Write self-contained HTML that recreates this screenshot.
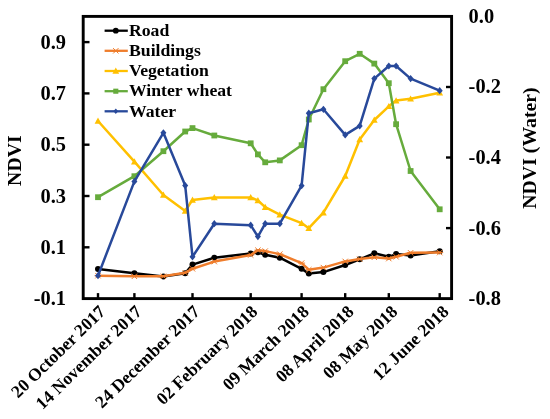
<!DOCTYPE html>
<html><head><meta charset="utf-8"><title>NDVI time series</title>
<style>
html,body{margin:0;padding:0;background:#fff;}
svg{display:block}
.t{font-family:"Liberation Serif","Times New Roman",serif;font-weight:bold;font-size:20.4px;fill:#000}
.l{font-size:17.7px}
.x{font-size:17.65px}
.a{font-size:19.8px}
</style></head><body>
<svg width="550" height="419" viewBox="0 0 550 419">
<rect width="550" height="419" fill="#fff"/>
<rect x="83.2" y="16.4" width="368.4" height="282.2" fill="none" stroke="#000" stroke-width="2.9"/>
<line x1="83.2" y1="42.1" x2="89.5" y2="42.1" stroke="#000" stroke-width="2.4"/>
<line x1="83.2" y1="93.4" x2="89.5" y2="93.4" stroke="#000" stroke-width="2.4"/>
<line x1="83.2" y1="144.7" x2="89.5" y2="144.7" stroke="#000" stroke-width="2.4"/>
<line x1="83.2" y1="196.0" x2="89.5" y2="196.0" stroke="#000" stroke-width="2.4"/>
<line x1="83.2" y1="247.3" x2="89.5" y2="247.3" stroke="#000" stroke-width="2.4"/>
<line x1="451.6" y1="87.0" x2="446.0" y2="87.0" stroke="#000" stroke-width="2.4"/>
<line x1="451.6" y1="157.5" x2="446.0" y2="157.5" stroke="#000" stroke-width="2.4"/>
<line x1="451.6" y1="228.1" x2="446.0" y2="228.1" stroke="#000" stroke-width="2.4"/>
<line x1="98.0" y1="298.6" x2="98.0" y2="293.1" stroke="#000" stroke-width="2.4"/>
<line x1="134.4" y1="298.6" x2="134.4" y2="293.1" stroke="#000" stroke-width="2.4"/>
<line x1="192.5" y1="298.6" x2="192.5" y2="293.1" stroke="#000" stroke-width="2.4"/>
<line x1="250.7" y1="298.6" x2="250.7" y2="293.1" stroke="#000" stroke-width="2.4"/>
<line x1="301.6" y1="298.6" x2="301.6" y2="293.1" stroke="#000" stroke-width="2.4"/>
<line x1="345.2" y1="298.6" x2="345.2" y2="293.1" stroke="#000" stroke-width="2.4"/>
<line x1="388.8" y1="298.6" x2="388.8" y2="293.1" stroke="#000" stroke-width="2.4"/>
<line x1="439.7" y1="298.6" x2="439.7" y2="293.1" stroke="#000" stroke-width="2.4"/>
<polyline points="98.0,269.1 134.4,273.3 163.4,276.6 185.2,273.3 192.5,264.6 214.3,257.7 250.7,253.5 257.9,252.3 265.2,254.7 279.8,257.7 301.6,268.8 308.8,273.6 323.4,272.1 345.2,265.0 359.7,259.3 374.3,253.3 388.8,256.8 396.1,254.1 410.6,255.4 439.7,251.2" fill="none" stroke="#000000" stroke-width="2.5" stroke-linejoin="round" stroke-linecap="round"/>
<circle cx="98.0" cy="269.1" r="3.0" fill="#000000"/>
<circle cx="134.4" cy="273.3" r="3.0" fill="#000000"/>
<circle cx="163.4" cy="276.6" r="3.0" fill="#000000"/>
<circle cx="185.2" cy="273.3" r="3.0" fill="#000000"/>
<circle cx="192.5" cy="264.6" r="3.0" fill="#000000"/>
<circle cx="214.3" cy="257.7" r="3.0" fill="#000000"/>
<circle cx="250.7" cy="253.5" r="3.0" fill="#000000"/>
<circle cx="257.9" cy="252.3" r="3.0" fill="#000000"/>
<circle cx="265.2" cy="254.7" r="3.0" fill="#000000"/>
<circle cx="279.8" cy="257.7" r="3.0" fill="#000000"/>
<circle cx="301.6" cy="268.8" r="3.0" fill="#000000"/>
<circle cx="308.8" cy="273.6" r="3.0" fill="#000000"/>
<circle cx="323.4" cy="272.1" r="3.0" fill="#000000"/>
<circle cx="345.2" cy="265.0" r="3.0" fill="#000000"/>
<circle cx="359.7" cy="259.3" r="3.0" fill="#000000"/>
<circle cx="374.3" cy="253.3" r="3.0" fill="#000000"/>
<circle cx="388.8" cy="256.8" r="3.0" fill="#000000"/>
<circle cx="396.1" cy="254.1" r="3.0" fill="#000000"/>
<circle cx="410.6" cy="255.4" r="3.0" fill="#000000"/>
<circle cx="439.7" cy="251.2" r="3.0" fill="#000000"/>
<polyline points="98.0,275.7 134.4,276.3 163.4,276.3 185.2,272.7 192.5,268.8 214.3,261.6 250.7,255.0 257.9,250.2 265.2,251.1 279.8,254.1 301.6,263.1 308.8,269.7 323.4,267.6 345.2,261.4 359.7,259.1 374.3,257.3 388.8,258.6 396.1,256.8 410.6,252.8 439.7,252.6" fill="none" stroke="#EF7D2C" stroke-width="2.5" stroke-linejoin="round" stroke-linecap="round"/>
<path d="M95.3 273.0l5.4 5.4m0 -5.4l-5.4 5.4m-0.8 -2.7h7" stroke="#EF7D2C" stroke-width="1" fill="none"/>
<path d="M131.7 273.6l5.4 5.4m0 -5.4l-5.4 5.4m-0.8 -2.7h7" stroke="#EF7D2C" stroke-width="1" fill="none"/>
<path d="M160.7 273.6l5.4 5.4m0 -5.4l-5.4 5.4m-0.8 -2.7h7" stroke="#EF7D2C" stroke-width="1" fill="none"/>
<path d="M182.5 270.0l5.4 5.4m0 -5.4l-5.4 5.4m-0.8 -2.7h7" stroke="#EF7D2C" stroke-width="1" fill="none"/>
<path d="M189.8 266.1l5.4 5.4m0 -5.4l-5.4 5.4m-0.8 -2.7h7" stroke="#EF7D2C" stroke-width="1" fill="none"/>
<path d="M211.6 258.9l5.4 5.4m0 -5.4l-5.4 5.4m-0.8 -2.7h7" stroke="#EF7D2C" stroke-width="1" fill="none"/>
<path d="M248.0 252.3l5.4 5.4m0 -5.4l-5.4 5.4m-0.8 -2.7h7" stroke="#EF7D2C" stroke-width="1" fill="none"/>
<path d="M255.2 247.5l5.4 5.4m0 -5.4l-5.4 5.4m-0.8 -2.7h7" stroke="#EF7D2C" stroke-width="1" fill="none"/>
<path d="M262.5 248.4l5.4 5.4m0 -5.4l-5.4 5.4m-0.8 -2.7h7" stroke="#EF7D2C" stroke-width="1" fill="none"/>
<path d="M277.1 251.4l5.4 5.4m0 -5.4l-5.4 5.4m-0.8 -2.7h7" stroke="#EF7D2C" stroke-width="1" fill="none"/>
<path d="M298.9 260.4l5.4 5.4m0 -5.4l-5.4 5.4m-0.8 -2.7h7" stroke="#EF7D2C" stroke-width="1" fill="none"/>
<path d="M306.1 267.0l5.4 5.4m0 -5.4l-5.4 5.4m-0.8 -2.7h7" stroke="#EF7D2C" stroke-width="1" fill="none"/>
<path d="M320.7 264.9l5.4 5.4m0 -5.4l-5.4 5.4m-0.8 -2.7h7" stroke="#EF7D2C" stroke-width="1" fill="none"/>
<path d="M342.5 258.7l5.4 5.4m0 -5.4l-5.4 5.4m-0.8 -2.7h7" stroke="#EF7D2C" stroke-width="1" fill="none"/>
<path d="M357.0 256.4l5.4 5.4m0 -5.4l-5.4 5.4m-0.8 -2.7h7" stroke="#EF7D2C" stroke-width="1" fill="none"/>
<path d="M371.6 254.6l5.4 5.4m0 -5.4l-5.4 5.4m-0.8 -2.7h7" stroke="#EF7D2C" stroke-width="1" fill="none"/>
<path d="M386.1 255.9l5.4 5.4m0 -5.4l-5.4 5.4m-0.8 -2.7h7" stroke="#EF7D2C" stroke-width="1" fill="none"/>
<path d="M393.4 254.1l5.4 5.4m0 -5.4l-5.4 5.4m-0.8 -2.7h7" stroke="#EF7D2C" stroke-width="1" fill="none"/>
<path d="M407.9 250.1l5.4 5.4m0 -5.4l-5.4 5.4m-0.8 -2.7h7" stroke="#EF7D2C" stroke-width="1" fill="none"/>
<path d="M437.0 249.9l5.4 5.4m0 -5.4l-5.4 5.4m-0.8 -2.7h7" stroke="#EF7D2C" stroke-width="1" fill="none"/>
<polyline points="98.0,121.0 134.4,161.7 163.4,195.0 185.2,211.0 192.5,199.9 214.3,197.5 250.7,197.5 257.9,200.5 265.2,207.2 279.8,214.7 301.6,223.1 308.8,228.2 323.4,212.6 345.2,176.0 359.7,139.5 374.3,120.0 388.8,106.3 396.1,100.6 410.6,98.8 439.7,92.8" fill="none" stroke="#FFC000" stroke-width="2.5" stroke-linejoin="round" stroke-linecap="round"/>
<path d="M98.0 117.6l3.4 6.2h-6.8z" fill="#FFC000"/>
<path d="M134.4 158.3l3.4 6.2h-6.8z" fill="#FFC000"/>
<path d="M163.4 191.6l3.4 6.2h-6.8z" fill="#FFC000"/>
<path d="M185.2 207.6l3.4 6.2h-6.8z" fill="#FFC000"/>
<path d="M192.5 196.5l3.4 6.2h-6.8z" fill="#FFC000"/>
<path d="M214.3 194.1l3.4 6.2h-6.8z" fill="#FFC000"/>
<path d="M250.7 194.1l3.4 6.2h-6.8z" fill="#FFC000"/>
<path d="M257.9 197.1l3.4 6.2h-6.8z" fill="#FFC000"/>
<path d="M265.2 203.8l3.4 6.2h-6.8z" fill="#FFC000"/>
<path d="M279.8 211.3l3.4 6.2h-6.8z" fill="#FFC000"/>
<path d="M301.6 219.7l3.4 6.2h-6.8z" fill="#FFC000"/>
<path d="M308.8 224.8l3.4 6.2h-6.8z" fill="#FFC000"/>
<path d="M323.4 209.2l3.4 6.2h-6.8z" fill="#FFC000"/>
<path d="M345.2 172.6l3.4 6.2h-6.8z" fill="#FFC000"/>
<path d="M359.7 136.1l3.4 6.2h-6.8z" fill="#FFC000"/>
<path d="M374.3 116.6l3.4 6.2h-6.8z" fill="#FFC000"/>
<path d="M388.8 102.9l3.4 6.2h-6.8z" fill="#FFC000"/>
<path d="M396.1 97.2l3.4 6.2h-6.8z" fill="#FFC000"/>
<path d="M410.6 95.4l3.4 6.2h-6.8z" fill="#FFC000"/>
<path d="M439.7 89.4l3.4 6.2h-6.8z" fill="#FFC000"/>
<polyline points="98.0,197.2 134.4,176.2 163.4,151.2 185.2,131.5 192.5,128.1 214.3,135.5 250.7,143.3 257.9,154.4 265.2,162.3 279.8,160.4 301.6,145.2 308.8,119.5 323.4,89.2 345.2,61.2 359.7,53.8 374.3,63.6 388.8,83.2 396.1,124.2 410.6,171.0 439.7,209.3" fill="none" stroke="#66AB3C" stroke-width="2.5" stroke-linejoin="round" stroke-linecap="round"/>
<rect x="95.1" y="194.3" width="5.8" height="5.8" fill="#66AB3C"/>
<rect x="131.5" y="173.3" width="5.8" height="5.8" fill="#66AB3C"/>
<rect x="160.5" y="148.3" width="5.8" height="5.8" fill="#66AB3C"/>
<rect x="182.3" y="128.6" width="5.8" height="5.8" fill="#66AB3C"/>
<rect x="189.6" y="125.2" width="5.8" height="5.8" fill="#66AB3C"/>
<rect x="211.4" y="132.6" width="5.8" height="5.8" fill="#66AB3C"/>
<rect x="247.8" y="140.4" width="5.8" height="5.8" fill="#66AB3C"/>
<rect x="255.0" y="151.5" width="5.8" height="5.8" fill="#66AB3C"/>
<rect x="262.3" y="159.4" width="5.8" height="5.8" fill="#66AB3C"/>
<rect x="276.9" y="157.5" width="5.8" height="5.8" fill="#66AB3C"/>
<rect x="298.7" y="142.3" width="5.8" height="5.8" fill="#66AB3C"/>
<rect x="305.9" y="116.6" width="5.8" height="5.8" fill="#66AB3C"/>
<rect x="320.5" y="86.3" width="5.8" height="5.8" fill="#66AB3C"/>
<rect x="342.3" y="58.3" width="5.8" height="5.8" fill="#66AB3C"/>
<rect x="356.8" y="50.9" width="5.8" height="5.8" fill="#66AB3C"/>
<rect x="371.4" y="60.7" width="5.8" height="5.8" fill="#66AB3C"/>
<rect x="385.9" y="80.3" width="5.8" height="5.8" fill="#66AB3C"/>
<rect x="393.2" y="121.3" width="5.8" height="5.8" fill="#66AB3C"/>
<rect x="407.7" y="168.1" width="5.8" height="5.8" fill="#66AB3C"/>
<rect x="436.8" y="206.4" width="5.8" height="5.8" fill="#66AB3C"/>
<polyline points="98.0,275.7 134.4,181.4 163.4,132.8 185.2,185.6 192.5,256.8 214.3,223.7 250.7,225.2 257.9,236.6 265.2,223.7 279.8,223.7 301.6,185.7 308.8,113.2 323.4,109.3 345.2,134.9 359.7,125.9 374.3,78.6 388.8,66.0 396.1,66.0 410.6,78.6 439.7,90.7" fill="none" stroke="#28499A" stroke-width="2.5" stroke-linejoin="round" stroke-linecap="round"/>
<path d="M98.0 272.1l3 3.6l-3 3.6l-3 -3.6z" fill="#28499A"/>
<path d="M134.4 177.8l3 3.6l-3 3.6l-3 -3.6z" fill="#28499A"/>
<path d="M163.4 129.2l3 3.6l-3 3.6l-3 -3.6z" fill="#28499A"/>
<path d="M185.2 182.0l3 3.6l-3 3.6l-3 -3.6z" fill="#28499A"/>
<path d="M192.5 253.2l3 3.6l-3 3.6l-3 -3.6z" fill="#28499A"/>
<path d="M214.3 220.1l3 3.6l-3 3.6l-3 -3.6z" fill="#28499A"/>
<path d="M250.7 221.6l3 3.6l-3 3.6l-3 -3.6z" fill="#28499A"/>
<path d="M257.9 233.0l3 3.6l-3 3.6l-3 -3.6z" fill="#28499A"/>
<path d="M265.2 220.1l3 3.6l-3 3.6l-3 -3.6z" fill="#28499A"/>
<path d="M279.8 220.1l3 3.6l-3 3.6l-3 -3.6z" fill="#28499A"/>
<path d="M301.6 182.1l3 3.6l-3 3.6l-3 -3.6z" fill="#28499A"/>
<path d="M308.8 109.6l3 3.6l-3 3.6l-3 -3.6z" fill="#28499A"/>
<path d="M323.4 105.7l3 3.6l-3 3.6l-3 -3.6z" fill="#28499A"/>
<path d="M345.2 131.3l3 3.6l-3 3.6l-3 -3.6z" fill="#28499A"/>
<path d="M359.7 122.3l3 3.6l-3 3.6l-3 -3.6z" fill="#28499A"/>
<path d="M374.3 75.0l3 3.6l-3 3.6l-3 -3.6z" fill="#28499A"/>
<path d="M388.8 62.4l3 3.6l-3 3.6l-3 -3.6z" fill="#28499A"/>
<path d="M396.1 62.4l3 3.6l-3 3.6l-3 -3.6z" fill="#28499A"/>
<path d="M410.6 75.0l3 3.6l-3 3.6l-3 -3.6z" fill="#28499A"/>
<path d="M439.7 87.1l3 3.6l-3 3.6l-3 -3.6z" fill="#28499A"/>
<line x1="104.6" y1="30.7" x2="127.8" y2="30.7" stroke="#000000" stroke-width="2.3"/>
<g transform="translate(115.8,30.7) scale(0.97)"><circle cx="0.0" cy="0.0" r="3.0" fill="#000000"/></g>
<text x="129" y="35.9" class="t l">Road</text>
<line x1="104.6" y1="50.8" x2="127.8" y2="50.8" stroke="#EF7D2C" stroke-width="2.3"/>
<g transform="translate(115.8,50.8) scale(1.00)"><path d="M-2.7 -2.7l5.4 5.4m0 -5.4l-5.4 5.4m-0.8 -2.7h7" stroke="#EF7D2C" stroke-width="1" fill="none"/></g>
<text x="129" y="56.0" class="t l">Buildings</text>
<line x1="104.6" y1="71.0" x2="127.8" y2="71.0" stroke="#FFC000" stroke-width="2.3"/>
<g transform="translate(115.8,71.0) scale(1.00)"><path d="M0.0 -3.4l3.4 6.2h-6.8z" fill="#FFC000"/></g>
<text x="129" y="76.2" class="t l">Vegetation</text>
<line x1="104.6" y1="91.2" x2="127.8" y2="91.2" stroke="#66AB3C" stroke-width="2.3"/>
<g transform="translate(115.8,91.2) scale(0.88)"><rect x="-2.9" y="-2.9" width="5.8" height="5.8" fill="#66AB3C"/></g>
<text x="129" y="96.4" class="t l">Winter wheat</text>
<line x1="104.6" y1="111.3" x2="127.8" y2="111.3" stroke="#28499A" stroke-width="2.3"/>
<g transform="translate(115.8,111.3) scale(0.78)"><path d="M0.0 -3.6l3 3.6l-3 3.6l-3 -3.6z" fill="#28499A"/></g>
<text x="129" y="116.5" class="t l">Water</text>
<text x="66" y="48.7" text-anchor="end" class="t">0.9</text>
<text x="66" y="100.0" text-anchor="end" class="t">0.7</text>
<text x="66" y="151.3" text-anchor="end" class="t">0.5</text>
<text x="66" y="202.6" text-anchor="end" class="t">0.3</text>
<text x="66" y="253.9" text-anchor="end" class="t">0.1</text>
<text x="66" y="305.2" text-anchor="end" class="t">-0.1</text>
<text x="468.6" y="22.8" class="t">0.0</text>
<text x="468.6" y="93.4" class="t">-0.2</text>
<text x="468.6" y="163.9" class="t">-0.4</text>
<text x="468.6" y="234.5" class="t">-0.6</text>
<text x="468.6" y="305.0" class="t">-0.8</text>
<text transform="translate(106.4,312.9) rotate(-44.2)" text-anchor="end" class="t x">20 October 2017</text>
<text transform="translate(142.8,312.9) rotate(-44.2)" text-anchor="end" class="t x">14 November 2017</text>
<text transform="translate(200.9,312.9) rotate(-44.2)" text-anchor="end" class="t x">24 December 2017</text>
<text transform="translate(258.7,312.9) rotate(-44.2)" text-anchor="end" class="t x">02 February 2018</text>
<text transform="translate(310.0,312.9) rotate(-44.2)" text-anchor="end" class="t x">09 March 2018</text>
<text transform="translate(354.8,312.9) rotate(-44.2)" text-anchor="end" class="t x">08 April 2018</text>
<text transform="translate(398.7,312.9) rotate(-44.2)" text-anchor="end" class="t x">08 May 2018</text>
<text transform="translate(449.8,312.9) rotate(-44.2)" text-anchor="end" class="t x">12 June 2018</text>
<text transform="translate(20.7,160.6) rotate(-90)" text-anchor="middle" class="t a">NDVI</text>
<text transform="translate(535.8,148.0) rotate(-90)" text-anchor="middle" class="t a">NDVI (Water)</text>
</svg>
</body></html>
